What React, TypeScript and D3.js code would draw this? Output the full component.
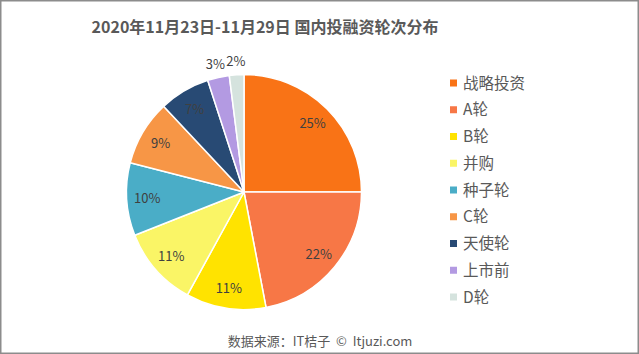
import * as d3 from 'd3';
import React, { useEffect, useRef } from 'react';

const categories = ['战略投资', 'A轮', 'B轮', '并购', '种子轮', 'C轮', '天使轮', '上市前', 'D轮'];
const shares = [25, 22, 11, 11, 10, 9, 7, 3, 2];
const colors = ['#F97316', '#F77746', '#FFE300', '#FAF566', '#4AADC7', '#F79646', '#284A74', '#B39AE2', '#D5E3DE'];
const title = '2020年11月23日-11月29日 国内投融资轮次分布';
const source = '数据来源：IT桔子  ©  Itjuzi.com';

const W = 639;
const H = 354;

export default function App() {
    const ref = useRef<SVGSVGElement>(null);

    useEffect(() => {
        const svg = d3.select(ref.current);
        svg.selectAll('*').remove();
        const font = '"Microsoft YaHei", "Noto Sans CJK SC", sans-serif';

        // frame
        svg.append('rect')
            .attr('x', 0.75).attr('y', 0.75)
            .attr('width', W - 1.5).attr('height', H - 1.5)
            .attr('fill', 'white')
            .attr('stroke', '#8c8c8c')
            .attr('stroke-width', 1.5);

        svg.append('text')
            .attr('x', 265).attr('y', 33)
            .attr('text-anchor', 'middle')
            .attr('font-family', font)
            .attr('font-weight', 'bold')
            .attr('font-size', 16)
            .attr('fill', '#595959')
            .text(title);

        const cx = 244, cy = 192, r = 117.5;
        const g = svg.append('g').attr('transform', `translate(${cx},${cy})`);

        const pie = d3.pie<number>().sort(null).value(d => d);
        const arcs = pie(shares);
        const arc = d3.arc<d3.PieArcDatum<number>>().innerRadius(0).outerRadius(r);

        g.selectAll('path.slice')
            .data(arcs)
            .enter()
            .append('path')
            .attr('class', 'slice')
            .attr('d', arc)
            .attr('fill', (d, i) => colors[i])
            .attr('stroke', 'white')
            .attr('stroke-width', 1.5)
            .attr('stroke-linejoin', 'round');

        // percentage labels: inside for large slices, just outside for small ones
        arcs.forEach((d, i) => {
            const mid = (d.startAngle + d.endAngle) / 2;
            const lr = d.data < 5 ? 131 : 97;
            g.append('text')
                .attr('x', lr * Math.sin(mid))
                .attr('y', -lr * Math.cos(mid) + 5)
                .attr('text-anchor', 'middle')
                .attr('font-family', font)
                .attr('font-size', 13)
                .attr('fill', '#404040')
                .text(`${d.data}%`);
        });

        // legend
        const legend = svg.append('g');
        const ly = d3.scaleLinear().domain([0, categories.length - 1]).range([83, 297]);
        categories.forEach((c, i) => {
            legend.append('rect')
                .attr('x', 450).attr('y', ly(i) - 3.5)
                .attr('width', 7).attr('height', 7)
                .attr('fill', colors[i]);
            legend.append('text')
                .attr('x', 463).attr('y', ly(i) + 5.5)
                .attr('font-family', font)
                .attr('font-size', 15.5)
                .attr('fill', '#595959')
                .text(c);
        });

        svg.append('text')
            .attr('x', 320).attr('y', 346)
            .attr('text-anchor', 'middle')
            .attr('font-family', font)
            .attr('font-size', 13)
            .attr('fill', '#595959')
            .attr('xml:space', 'preserve')
            .style('white-space', 'pre')
            .text(source);
    }, []);

    return (
        <svg ref={ref} width={W} height={H}
            style={{ position: 'absolute', left: 0, top: 0, display: 'block' }} />
    );
}
